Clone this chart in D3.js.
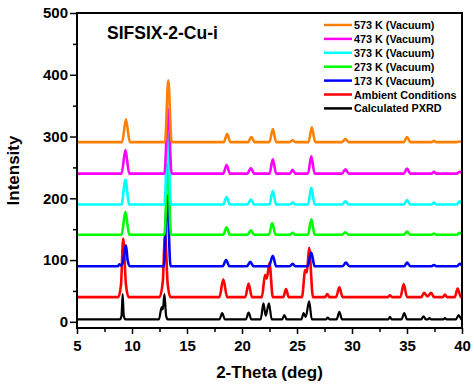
<!DOCTYPE html>
<html>
<head>
<meta charset="utf-8">
<script src="https://cdn.jsdelivr.net/npm/d3@7"></script>
<style>
  html, body { margin: 0; padding: 0; background: #fff; }
  svg { display: block; font-family: "Liberation Sans", Arial, sans-serif; font-weight: bold; }
</style>
</head>
<body>
<svg id="chart" width="474" height="384"></svg>
<script>
// PXRD patterns, [2-theta, intensity] (offsets included)
const calcPXRD = [[5,4],[8.9,4],[9.05,10],[9.15,45],[9.25,10],[9.4,4],[12.45,4],[12.7,24],[12.8,20],[12.95,45],[13.1,10],[13.25,4],
  [17.95,4],[18.2,14],[18.45,4],[20.35,4],[20.6,15],[20.85,4],[21.7,4],[21.95,30],[22.15,10],[22.45,30],[22.7,4],
  [23.65,4],[23.85,11],[24.05,4],[25.4,4],[25.6,14],[25.8,8],[26.1,33],[26.35,4],[27.65,4],[27.8,7],[27.95,4],
  [28.6,4],[28.85,16],[29.1,4],[33.3,4],[33.45,8],[33.6,4],[34.5,4],[34.75,14],[35.0,4],[36.3,4],[36.5,9],[36.7,4],
  [36.9,4],[37.05,6],[37.2,4],[38.3,4],[38.45,6],[38.6,4],[39.45,4],[39.7,11],[39.95,4],[40,4]];

const ambient = [[5,40],[8.75,40],[9.0,60],[9.2,135],[9.45,60],[9.7,40],[12.5,40],[12.8,65],[13.0,142],[13.25,60],[13.5,40],
  [17.95,40],[18.3,69],[18.65,40],[20.3,40],[20.6,62],[20.9,40],[21.8,40],[22.1,76],[22.25,70],[22.5,95],[22.8,40],
  [23.75,40],[24.0,53],[24.25,40],[25.45,40],[25.75,84],[25.9,80],[26.1,120],[26.45,40],[27.55,40],[27.75,45],[27.95,40],
  [28.55,40],[28.85,56],[29.15,40],[33.25,40],[33.45,43],[33.65,40],[34.4,40],[34.7,61],[35.0,40],[36.3,40],[36.55,47],
  [36.85,41],[37.2,47],[37.45,40],[38.25,40],[38.45,44],[38.65,40],[39.35,40],[39.6,54],[39.9,40],[40,41]];

const k173 = [[5,90],[8.7,90],[8.85,93],[9.0,91],[9.15,95],[9.45,124],[9.6,100],[9.8,90],[12.9,90],[13.2,205],[13.5,90],
  [18.25,90],[18.55,100],[18.85,90],[20.45,90],[20.75,97],[21.05,90],[22.45,90],[22.8,107],[23.1,90],[24.35,90],[24.6,94],[24.85,90],
  [25.95,90],[26.3,112],[26.6,90],[29.15,90],[29.45,96],[29.75,90],[34.75,90],[35.0,96],[35.3,90],[37.25,90],[37.45,92],[37.65,90],
  [39.55,90],[39.8,94],[40,91]];

const k273 = [[5,141],[9.05,141],[9.4,178],[9.75,141],[12.95,141],[13.25,255],[13.55,141],[18.3,141],[18.6,153],[18.9,141],
  [20.5,141],[20.8,148],[21.1,141],[22.45,141],[22.75,160],[23.05,141],[24.35,141],[24.6,144],[24.85,141],[26.0,141],[26.3,166],
  [26.6,141],[29.1,141],[29.4,145],[29.7,141],[34.7,141],[35.0,146],[35.3,141],[37.25,141],[37.45,143],[37.65,141],
  [39.5,141],[39.8,144],[40,142]];

const k373 = [[5,190],[9.05,190],[9.4,230],[9.75,190],[12.95,190],[13.25,305],[13.55,190],[18.3,190],[18.6,202],[18.9,190],
  [20.5,190],[20.8,198],[21.1,190],[22.5,190],[22.8,212],[23.1,190],[24.35,190],[24.6,193],[24.85,190],[26.0,190],[26.3,217],
  [26.6,190],[29.1,190],[29.4,195],[29.7,190],[34.7,190],[35.0,197],[35.3,190],[37.25,190],[37.45,193],[37.65,190],
  [39.5,190],[39.8,195],[40,191]];

const k473 = [[5,240],[9.05,240],[9.4,278],[9.75,240],[12.95,240],[13.28,345],[13.6,240],[18.3,240],[18.6,254],[18.9,240],
  [20.5,240],[20.8,249],[21.1,240],[22.5,240],[22.8,263],[23.1,240],[24.35,240],[24.6,246],[24.85,240],[26.0,240],[26.3,268],
  [26.6,240],[29.1,240],[29.4,247],[29.7,240],[34.7,240],[35.0,248],[35.3,240],[37.25,240],[37.45,243],[37.65,240],
  [39.5,240],[39.8,243],[40,241]];

const k573 = [[5,291],[9.1,291],[9.45,328],[9.8,291],[13.0,291],[13.3,391],[13.6,291],[18.35,291],[18.65,304],[18.95,291],
  [20.55,291],[20.85,299],[21.15,291],[22.5,291],[22.8,312],[23.1,291],[24.35,291],[24.6,294],[24.85,291],[26.05,291],[26.35,315],
  [26.65,291],[29.1,291],[29.4,296],[29.7,291],[34.7,291],[35.0,299],[35.3,291],[37.25,291],[37.45,293],[37.65,291],
  [39.5,291],[39.8,292],[40,291]];

// drawing order: calculated first, hottest last (on top)
const seriesNames = ['Calculated PXRD', 'Ambient Conditions', '173 K (Vacuum)', '273 K (Vacuum)', '373 K (Vacuum)', '473 K (Vacuum)', '573 K (Vacuum)'];
const seriesData = [calcPXRD, ambient, k173, k273, k373, k473, k573];
const seriesColors = ['#000000', '#ff0000', '#0000ff', '#00ff00', '#00ffff', '#ff00ff', '#ff8000'];

const xMajor = [5, 10, 15, 20, 25, 30, 35, 40];
const xMinor = [7.5, 12.5, 17.5, 22.5, 27.5, 32.5, 37.5];
const yMajor = [0, 100, 200, 300, 400, 500];
const yMinor = [50, 150, 250, 350, 450];

const box = { left: 77, right: 462, top: 13, bottom: 328 };

const svg = d3.select('#chart');
const x = d3.scaleLinear().domain([5, 40]).range([box.left, box.right]);
const y = d3.scaleLinear().domain([-10, 500]).range([box.bottom, box.top]);

svg.append('defs').append('clipPath').attr('id', 'plot-clip')
  .append('rect')
  .attr('x', box.left).attr('y', box.top)
  .attr('width', box.right - box.left).attr('height', box.bottom - box.top);

// Patterns
const line = d3.line().x(d => x(d[0])).y(d => y(d[1])).curve(d3.curveMonotoneX);
const plot = svg.append('g').attr('clip-path', 'url(#plot-clip)');
seriesData.forEach((data, i) => {
  plot.append('path')
    .datum(data)
    .attr('d', line)
    .attr('fill', 'none')
    .attr('stroke', seriesColors[i])
    .attr('stroke-width', i === 0 ? 2.2 : 2.6)
    .attr('stroke-linejoin', 'round');
});

// Frame
svg.append('rect')
  .attr('x', box.left).attr('y', box.top)
  .attr('width', box.right - box.left).attr('height', box.bottom - box.top)
  .attr('fill', 'none').attr('stroke', '#000').attr('stroke-width', 2);

// Axes
function styleAxis(g) {
  g.select('.domain').remove();
  g.selectAll('.tick line').attr('stroke', '#000').attr('stroke-width', 1.5);
  g.selectAll('.tick text').attr('fill', '#000').attr('font-size', 15).attr('font-weight', 'bold')
    .attr('font-family', '"Liberation Sans", Arial, sans-serif');
}

svg.append('g').attr('transform', `translate(0,${box.bottom})`)
  .call(d3.axisBottom(x).tickValues(xMajor).tickSize(6).tickPadding(6).tickFormat(d3.format('d')))
  .call(styleAxis);
svg.append('g').attr('transform', `translate(0,${box.bottom})`)
  .call(d3.axisBottom(x).tickValues(xMinor).tickSize(4).tickFormat(''))
  .call(styleAxis);

svg.append('g').attr('transform', `translate(${box.left},0)`)
  .call(d3.axisLeft(y).tickValues(yMajor).tickSize(7).tickPadding(2).tickFormat(d3.format('d')))
  .call(styleAxis);
svg.append('g').attr('transform', `translate(${box.left},0)`)
  .call(d3.axisLeft(y).tickValues(yMinor).tickSize(4).tickFormat(''))
  .call(styleAxis);

// Axis titles
svg.append('text')
  .attr('x', (box.left + box.right) / 2).attr('y', 378)
  .attr('text-anchor', 'middle').attr('font-size', 17)
  .text('2-Theta (deg)');

svg.append('text')
  .attr('transform', `translate(19,${(box.top + box.bottom) / 2}) rotate(-90)`)
  .attr('text-anchor', 'middle').attr('font-size', 17)
  .text('Intensity');

// Sample name
svg.append('text')
  .attr('x', 107).attr('y', 39)
  .attr('font-size', 17.5)
  .text('SIFSIX-2-Cu-i');

// Legend (hottest on top)
const legend = svg.append('g');
for (let i = seriesNames.length - 1, row = 0; i >= 0; i--, row++) {
  const ly = 25 + row * 13.9;
  legend.append('line')
    .attr('x1', 324).attr('x2', 352).attr('y1', ly).attr('y2', ly)
    .attr('stroke', seriesColors[i]).attr('stroke-width', 2.5);
  legend.append('text')
    .attr('x', 354).attr('y', ly + 4)
    .attr('font-size', 10.8)
    .text(seriesNames[i]);
}
</script>
</body>
</html>
